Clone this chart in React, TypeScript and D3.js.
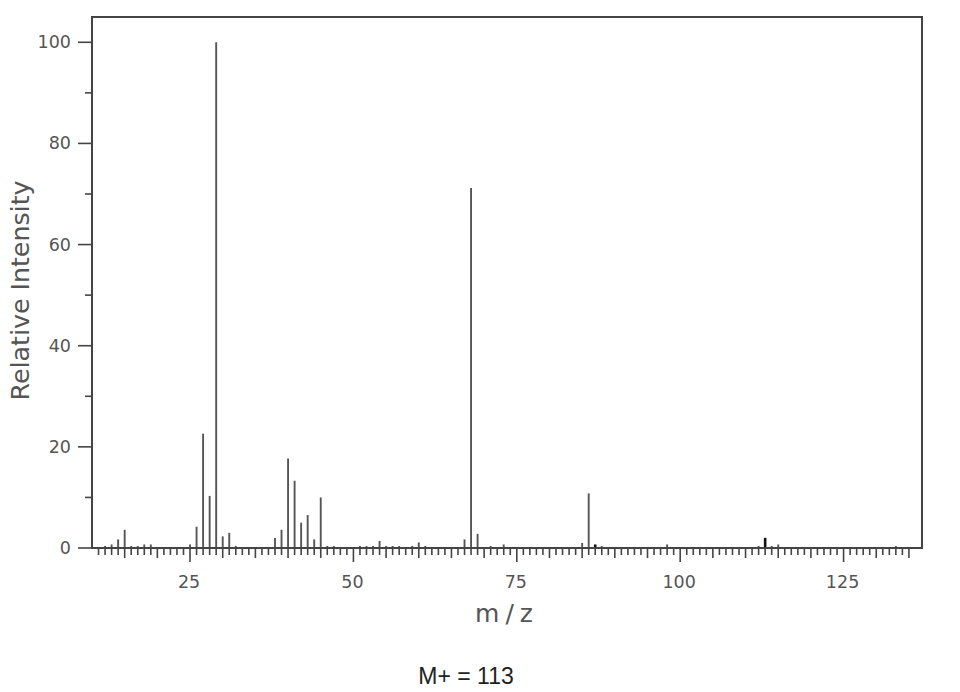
import { useEffect, useRef } from "react";
import * as d3 from "d3";

// mass spectrum peaks
const mzValues = [
  12, 13, 14, 15, 16, 17, 18, 19, 25, 26, 27, 28, 29, 30, 31, 32, 38, 39, 40,
  41, 42, 43, 44, 45, 46, 47, 51, 52, 53, 54, 55, 56, 57, 59, 60, 61, 67, 68,
  69, 71, 73, 85, 86, 87, 88, 98, 112, 113, 114, 115, 133,
];
const intensities = [
  0.4, 0.7, 1.7, 3.6, 0.4, 0.4, 0.7, 0.7, 0.7, 4.2, 22.6, 10.3, 100, 2.3, 3.0,
  0.4, 2.0, 3.6, 17.7, 13.3, 5.0, 6.5, 1.7, 10.0, 0.4, 0.4, 0.4, 0.4, 0.4, 1.4,
  0.4, 0.4, 0.4, 0.4, 1.1, 0.4, 1.7, 71.2, 2.8, 0.4, 0.7, 1.0, 10.8, 0.7, 0.4,
  0.7, 0.4, 2.0, 0.4, 0.7, 0.4,
];
const darkPeaks = [87, 113];
const xDomain = [10, 137];
const yDomain = [0, 105];
const xTickLabels = [25, 50, 75, 100, 125];
const yTickLabels = [0, 20, 40, 60, 80, 100];
const moleculeIon = 113;

const App = () => {
  const svgRef = useRef<SVGSVGElement>(null);

  useEffect(() => {
    document.body.style.margin = "0";
    const svg = d3.select(svgRef.current);
    svg.selectAll("*").remove();

    const width = 960;
    const height = 692;
    const margin = { top: 17, right: 38, bottom: 144, left: 92 };
    const axisColor = "#444";
    const textColor = "#555";

    const x = d3
      .scaleLinear()
      .domain(xDomain)
      .range([margin.left, width - margin.right]);
    const y = d3
      .scaleLinear()
      .domain(yDomain)
      .range([height - margin.bottom, margin.top]);

    const base = y(0);

    // x ticks: every unit, longer every 5 and every 25
    const xt = d3.range(11, 136);
    svg
      .append("g")
      .selectAll("line")
      .data(xt)
      .join("line")
      .attr("x1", (d) => x(d))
      .attr("x2", (d) => x(d))
      .attr("y1", base)
      .attr("y2", (d) => base + (d % 25 === 0 ? 14 : d % 5 === 0 ? 10 : 7))
      .attr("stroke", axisColor)
      .attr("stroke-width", 1.6);

    // peaks
    const peaks = mzValues.map((m, i) => ({ m, v: intensities[i] }));
    svg
      .append("g")
      .selectAll("line")
      .data(peaks)
      .join("line")
      .attr("x1", (d) => x(d.m))
      .attr("x2", (d) => x(d.m))
      .attr("y1", base)
      .attr("y2", (d) => y(d.v))
      .attr("stroke", (d) => (darkPeaks.includes(d.m) ? "#111" : "#555"))
      .attr("stroke-width", (d) => (darkPeaks.includes(d.m) ? 2.6 : 1.9));

    // y ticks
    const yt = d3.range(0, 101, 10);
    svg
      .append("g")
      .selectAll("line")
      .data(yt)
      .join("line")
      .attr("x1", (d) => margin.left - (d % 20 === 0 ? 14 : 7))
      .attr("x2", margin.left)
      .attr("y1", (d) => y(d))
      .attr("y2", (d) => y(d))
      .attr("stroke", axisColor)
      .attr("stroke-width", 1.6);

    svg
      .append("g")
      .selectAll("text")
      .data(yTickLabels)
      .join("text")
      .attr("x", margin.left - 21)
      .attr("y", (d) => y(d) + 6)
      .attr("text-anchor", "end")
      .attr("font-family", "DejaVu Sans")
      .attr("font-size", 17.5)
      .attr("fill", textColor)
      .text((d) => d);

    svg
      .append("g")
      .selectAll("text")
      .data(xTickLabels)
      .join("text")
      .attr("x", (d) => x(d) - 1)
      .attr("y", base + 40)
      .attr("text-anchor", "middle")
      .attr("font-family", "DejaVu Sans")
      .attr("font-size", 17.5)
      .attr("fill", textColor)
      .text((d) => d);

    // frame
    svg
      .append("rect")
      .attr("x", margin.left)
      .attr("y", margin.top)
      .attr("width", width - margin.left - margin.right)
      .attr("height", base - margin.top)
      .attr("fill", "none")
      .attr("stroke", axisColor)
      .attr("stroke-width", 2);

    // axis titles
    svg
      .append("text")
      .attr("x", 507)
      .attr("y", 622)
      .attr("text-anchor", "middle")
      .attr("font-family", "DejaVu Sans")
      .attr("font-size", 25)
      .attr("letter-spacing", 6)
      .attr("fill", textColor)
      .text("m/z");

    svg
      .append("text")
      .attr("transform", `translate(29, ${(margin.top + base) / 2 + 8}) rotate(-90)`)
      .attr("text-anchor", "middle")
      .attr("font-family", "DejaVu Sans")
      .attr("font-size", 24)
      .attr("textLength", 220)
      .attr("lengthAdjust", "spacingAndGlyphs")
      .attr("fill", textColor)
      .text("Relative Intensity");

    svg
      .append("text")
      .attr("x", 466)
      .attr("y", 684)
      .attr("text-anchor", "middle")
      .attr("font-family", "Liberation Sans")
      .attr("font-size", 23)
      .attr("fill", "#222")
      .text(`M+ = ${moleculeIon}`);
  }, []);

  return (
    <svg ref={svgRef} width={960} height={692} style={{ display: "block" }} />
  );
};

export default App;
